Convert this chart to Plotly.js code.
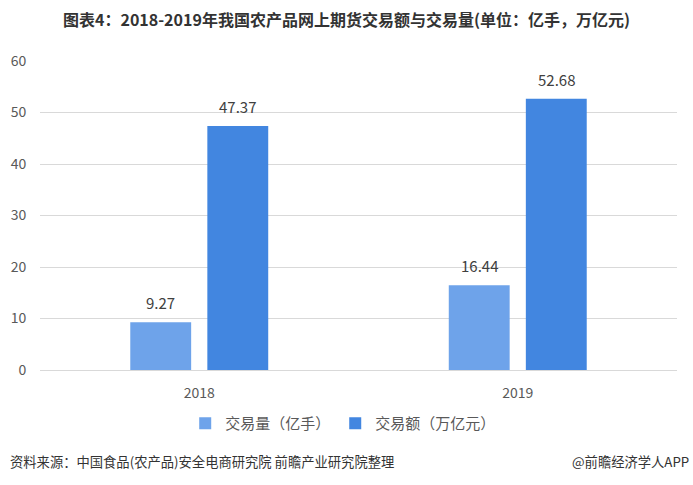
<!DOCTYPE html>
<html>
<head>
<meta charset="utf-8">
<script src="https://cdn.plot.ly/plotly-3.0.1.min.js"></script>
<style>html,body{margin:0;padding:0;background:#fff;}#chart{width:693px;height:485px;}</style>
</head>
<body>
<div id="chart"></div>
<script>
const categories = ['2018', '2019'];
const volumeName = '交易量（亿手）';
const volume = [9.27, 16.44];
const amountName = '交易额（万亿元）';
const amount = [47.37, 52.68];
const yTicks = [0, 10, 20, 30, 40, 50, 60];

const font = '"Microsoft YaHei", "Noto Sans CJK SC", "Noto Sans", sans-serif';
const volColor = '#6ea3ea';
const amtColor = '#4286e0';

const traces = [
  {type: 'bar', name: volumeName, x: categories, y: volume, marker: {color: volColor}, hoverinfo: 'none'},
  {type: 'bar', name: amountName, x: categories, y: amount, marker: {color: amtColor}, hoverinfo: 'none'}
];

// value labels placed through the data scales (category index), shifted onto each bar of the group
const labelAnns = [];
[[volume, -38.5], [amount, 38.5]].forEach(([vals, dx]) => {
  vals.forEach((v, i) => {
    labelAnns.push({x: i, y: v, xref: 'x', yref: 'y', text: v.toFixed(2),
      showarrow: false, xanchor: 'center', yanchor: 'bottom', xshift: dx, yshift: 7,
      font: {size: 15, color: '#404040', family: font}});
  });
});

const layout = {
  width: 693, height: 485,
  margin: {l: 40, r: 16, t: 61, b: 115},
  paper_bgcolor: '#ffffff', plot_bgcolor: '#ffffff',
  font: {family: font, color: '#595959', size: 14},
  title: {text: '<b>图表4：2018-2019年我国农产品网上期货交易额与交易量(单位：亿手，万亿元)</b>',
          x: 0.5, xanchor: 'center', y: 0.957, yanchor: 'middle',
          font: {size: 16, color: '#333333', family: font}},
  barmode: 'group', bargap: 0.516, bargroupgap: 0.21,
  xaxis: {type: 'category', range: [-0.5, 1.5], showgrid: false, zeroline: false, showline: false,
          ticks: 'outside', ticklen: 10, tickcolor: 'rgba(0,0,0,0)',
          tickfont: {size: 14, color: '#595959'}},
  yaxis: {range: [0, 60], tickvals: yTicks, showgrid: true, gridcolor: '#d9d9d9', gridwidth: 1,
          zeroline: true, zerolinecolor: '#d9d9d9', zerolinewidth: 1, showline: false,
          ticks: 'outside', ticklen: 10, tickcolor: 'rgba(0,0,0,0)',
          tickfont: {size: 14, color: '#595959'}},
  showlegend: true,
  legend: {orientation: 'h', x: 0.476, xanchor: 'center', y: -0.12, yanchor: 'top',
           font: {size: 15, color: '#595959'}, itemwidth: 30, traceorder: 'normal'},
  annotations: labelAnns.concat([
    {text: '资料来源：中国食品(农产品)安全电商研究院 前瞻产业研究院整理', xref: 'paper', yref: 'paper',
     x: -0.051, y: -0.297, xanchor: 'left', yanchor: 'middle', showarrow: false,
     font: {size: 13.3, color: '#333333'}, align: 'left'},
    {text: '@前瞻经济学人APP', xref: 'paper', yref: 'paper', x: 1.022, y: -0.297,
     xanchor: 'right', yanchor: 'middle', showarrow: false,
     font: {size: 13.3, color: '#333333'}}
  ])
};

Plotly.newPlot('chart', traces, layout, {displayModeBar: false, staticPlot: true});
</script>
</body>
</html>
